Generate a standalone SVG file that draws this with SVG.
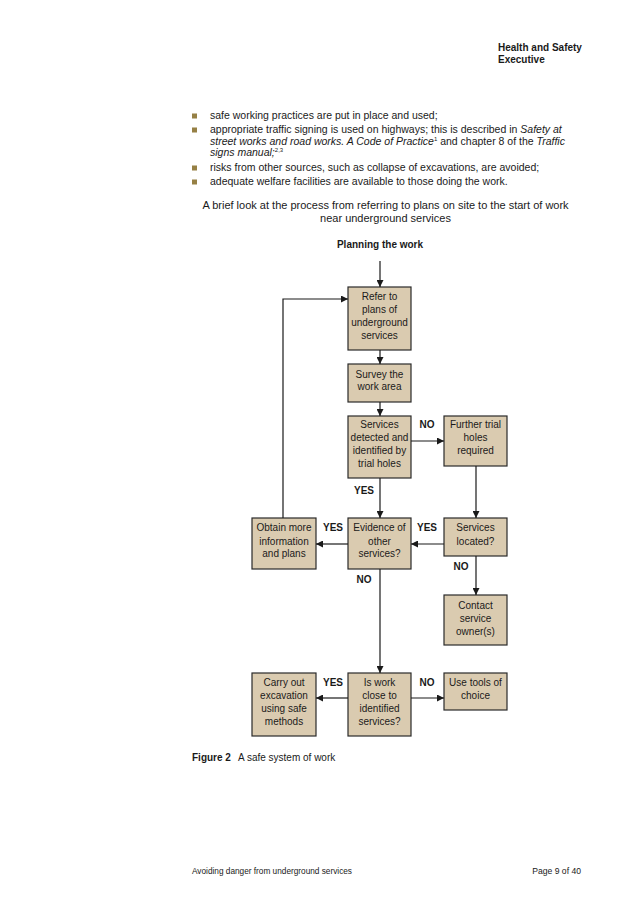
<svg xmlns="http://www.w3.org/2000/svg" width="638" height="903" viewBox="0 0 638 903">
<style>
text{font-family:"Liberation Sans",Arial,sans-serif;fill:#1a1a1a}
.hd{font-size:10px;font-weight:bold}
.bl{font-size:10.5px}
.it{font-style:italic}
.cap{font-size:11px;text-anchor:middle}
.bx rect{fill:#DACBB0;stroke:#2a2a2a;stroke-width:1.2}
.bx text{font-size:10px;text-anchor:middle}
.lb{font-size:10px;font-weight:bold;text-anchor:middle}
.cn{stroke:#1a1a1a;stroke-width:1.2;fill:none}
.bul{fill:#968045}
.ft{font-size:8.6px}
</style>
<defs>
<marker id="ah" viewBox="0 0 10 10" refX="10" refY="5" markerWidth="7" markerHeight="7" markerUnits="userSpaceOnUse" orient="auto">
<path d="M0,0 L10,5 L0,10 z" fill="#1a1a1a"/>
</marker>
</defs>
<rect width="638" height="903" fill="#fff"/>
<g id="header">
<text class="hd" x="498" y="51">Health and Safety</text>
<text class="hd" x="498" y="63">Executive</text>
</g>
<g id="bullets">
<rect class="bul" x="192" y="113.5" width="5" height="5"/>
<rect class="bul" x="192" y="127.5" width="5" height="5"/>
<rect class="bul" x="192" y="165.5" width="5" height="5"/>
<rect class="bul" x="192" y="179.5" width="5" height="5"/>
<text class="bl" x="210" y="119">safe working practices are put in place and used;</text>
<text class="bl" x="210" y="133">appropriate traffic signing is used on highways; this is described in <tspan class="it">Safety at</tspan></text>
<text class="bl" x="210" y="144.5"><tspan class="it">street works and road works. A Code of Practice</tspan><tspan font-size="6" dy="-4">1</tspan><tspan dy="4"> and chapter 8 of the </tspan><tspan class="it">Traffic</tspan></text>
<text class="bl" x="210" y="156"><tspan class="it">signs manual;</tspan><tspan font-size="6" dy="-4">2,3</tspan></text>
<text class="bl" x="210" y="171">risks from other sources, such as collapse of excavations, are avoided;</text>
<text class="bl" x="210" y="185">adequate welfare facilities are available to those doing the work.</text>
</g>
<g id="caption">
<text class="cap" x="385.5" y="208.5">A brief look at the process from referring to plans on site to the start of work</text>
<text class="cap" x="385.5" y="222">near underground services</text>
</g>
<g id="start">
<text class="lb" x="380" y="248">Planning the work</text>
</g>
<g id="refer" class="bx">
<rect x="348" y="287" width="63" height="63"/>
<text x="379.5" y="300">Refer to</text>
<text x="379.5" y="313">plans of</text>
<text x="379.5" y="326">underground</text>
<text x="379.5" y="338.5">services</text>
</g>
<g id="survey" class="bx">
<rect x="348" y="364" width="63" height="38"/>
<text x="379.5" y="377.5">Survey the</text>
<text x="379.5" y="390">work area</text>
</g>
<g id="detected" class="bx">
<rect x="348" y="416" width="63" height="62"/>
<text x="379.5" y="428">Services</text>
<text x="379.5" y="441">detected and</text>
<text x="379.5" y="454">identified by</text>
<text x="379.5" y="467">trial holes</text>
</g>
<g id="further" class="bx">
<rect x="444" y="416" width="63" height="50"/>
<text x="475.5" y="428">Further trial</text>
<text x="475.5" y="441">holes</text>
<text x="475.5" y="454">required</text>
</g>
<g id="evidence" class="bx">
<rect x="348" y="518" width="63" height="51"/>
<text x="379.5" y="531">Evidence of</text>
<text x="379.5" y="544.5">other</text>
<text x="379.5" y="557">services?</text>
</g>
<g id="obtain" class="bx">
<rect x="252" y="518" width="64" height="51"/>
<text x="284" y="531">Obtain more</text>
<text x="284" y="544.5">information</text>
<text x="284" y="557">and plans</text>
</g>
<g id="located" class="bx">
<rect x="444" y="518" width="63" height="38"/>
<text x="475.5" y="531">Services</text>
<text x="475.5" y="544.5">located?</text>
</g>
<g id="contact" class="bx">
<rect x="444" y="595" width="63" height="50"/>
<text x="475.5" y="608.5">Contact</text>
<text x="475.5" y="621.5">service</text>
<text x="475.5" y="634.5">owner(s)</text>
</g>
<g id="iswork" class="bx">
<rect x="348" y="673" width="63" height="63"/>
<text x="379.5" y="686">Is work</text>
<text x="379.5" y="699">close to</text>
<text x="379.5" y="712">identified</text>
<text x="379.5" y="724.5">services?</text>
</g>
<g id="carry" class="bx">
<rect x="252" y="673" width="64" height="63"/>
<text x="284" y="686">Carry out</text>
<text x="284" y="699">excavation</text>
<text x="284" y="712">using safe</text>
<text x="284" y="724.5">methods</text>
</g>
<g id="usetools" class="bx">
<rect x="444" y="673" width="63" height="37"/>
<text x="475.5" y="686">Use tools of</text>
<text x="475.5" y="699">choice</text>
</g>
<g id="connectors">
<path class="cn" marker-end="url(#ah)" d="M380,261 V287"/>
<path class="cn" marker-end="url(#ah)" d="M380,350 V364"/>
<path class="cn" marker-end="url(#ah)" d="M380,402 V416"/>
<path class="cn" marker-end="url(#ah)" d="M411,441 H444"/>
<path class="cn" marker-end="url(#ah)" d="M380,478 V518"/>
<path class="cn" marker-end="url(#ah)" d="M476,466 V518"/>
<path class="cn" marker-end="url(#ah)" d="M444,544 H411"/>
<path class="cn" marker-end="url(#ah)" d="M348,544 H316"/>
<path class="cn" marker-end="url(#ah)" d="M283,518 V299 H348"/>
<path class="cn" marker-end="url(#ah)" d="M476,556 V595"/>
<path class="cn" marker-end="url(#ah)" d="M380,569 V673"/>
<path class="cn" marker-end="url(#ah)" d="M348,698 H316"/>
<path class="cn" marker-end="url(#ah)" d="M411,698 H444"/>
<text class="lb" x="427" y="428">NO</text>
<text class="lb" x="364" y="494">YES</text>
<text class="lb" x="333" y="531">YES</text>
<text class="lb" x="427" y="531">YES</text>
<text class="lb" x="461" y="569.5">NO</text>
<text class="lb" x="364" y="583">NO</text>
<text class="lb" x="333" y="686">YES</text>
<text class="lb" x="427" y="686">NO</text>
</g>
<g id="figure">
<text x="192" y="761" style="font-size:10px;font-weight:bold">Figure 2</text>
<text x="238" y="761" style="font-size:10px">A safe system of work</text>
</g>
<g id="footer">
<text class="ft" x="192" y="874" textLength="160" lengthAdjust="spacingAndGlyphs">Avoiding danger from underground services</text>
<text class="ft" x="581" y="874" text-anchor="end">Page 9 of 40</text>
</g>
</svg>
